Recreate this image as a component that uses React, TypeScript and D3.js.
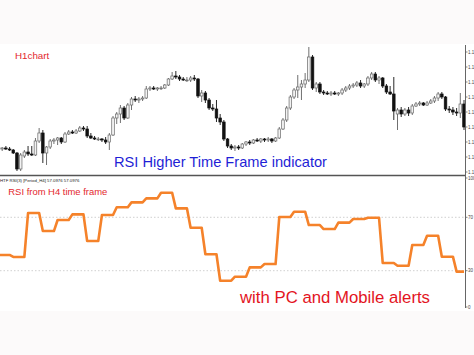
import React from "react";
import * as d3 from "d3";

// H1 candles: [open, high, low, close]
const candles: [number, number, number, number][] = [
  [1.1344,1.1346,1.1342,1.1343],[1.1343,1.1345,1.1341,1.1344],[1.1344,1.1346,1.1342,1.1343],[1.1343,1.1345,1.1341,1.1342],
  [1.1342,1.1343,1.1338,1.1339],[1.1339,1.1340,1.1321,1.1323],[1.1323,1.1339,1.1321,1.1337],[1.1336,1.1342,1.1334,1.1340],
  [1.1340,1.1346,1.1336,1.1338],[1.1338,1.1346,1.1336,1.1337],[1.1337,1.1354,1.1336,1.1351],[1.1351,1.1364,1.1349,1.1359],
  [1.1359,1.1362,1.1329,1.1339],[1.1339,1.1346,1.1327,1.1345],[1.1345,1.1353,1.1343,1.1351],[1.1351,1.1354,1.1348,1.1352],
  [1.1352,1.1355,1.1347,1.1354],[1.1354,1.1355,1.1348,1.1350],[1.1350,1.1360,1.1349,1.1358],[1.1358,1.1362,1.1357,1.1360],
  [1.1360,1.1362,1.1358,1.1359],[1.1359,1.1363,1.1358,1.1361],[1.1361,1.1366,1.1360,1.1364],[1.1364,1.1366,1.1361,1.1363],
  [1.1363,1.1366,1.1354,1.1356],[1.1356,1.1359,1.1353,1.1354],[1.1354,1.1356,1.1352,1.1353],[1.1353,1.1355,1.1351,1.1353],
  [1.1353,1.1354,1.1350,1.1352],[1.1352,1.1355,1.1348,1.1350],[1.1350,1.1359,1.1342,1.1357],[1.1357,1.1376,1.1356,1.1374],
  [1.1374,1.1380,1.1368,1.1378],[1.1378,1.1387,1.1369,1.1384],[1.1384,1.1386,1.1372,1.1374],[1.1374,1.1389,1.1373,1.1387],
  [1.1387,1.1395,1.1382,1.1393],[1.1393,1.1396,1.1390,1.1392],[1.1392,1.1395,1.1389,1.1393],[1.1393,1.1396,1.1391,1.1394],
  [1.1394,1.1406,1.1393,1.1403],[1.1403,1.1406,1.1401,1.1404],[1.1404,1.1406,1.1402,1.1403],[1.1403,1.1405,1.1401,1.1404],
  [1.1404,1.1406,1.1402,1.1404],[1.1404,1.1408,1.1403,1.1407],[1.1407,1.1414,1.1406,1.1413],[1.1413,1.1420,1.1412,1.1416],
  [1.1416,1.1421,1.1413,1.1415],[1.1415,1.1417,1.1411,1.1413],[1.1413,1.1415,1.1411,1.1412],[1.1412,1.1415,1.1410,1.1412],
  [1.1412,1.1416,1.1410,1.1414],[1.1414,1.1417,1.1411,1.1413],[1.1413,1.1414,1.1394,1.1396],[1.1396,1.1402,1.1390,1.1399],
  [1.1399,1.1401,1.1389,1.1392],[1.1392,1.1394,1.1382,1.1384],[1.1384,1.1388,1.1381,1.1383],[1.1383,1.1392,1.1370,1.1374],
  [1.1374,1.1378,1.1367,1.1370],[1.1370,1.1372,1.1351,1.1353],[1.1353,1.1354,1.1344,1.1346],[1.1346,1.1348,1.1342,1.1344],
  [1.1344,1.1347,1.1341,1.1345],[1.1345,1.1347,1.1342,1.1344],[1.1344,1.1349,1.1343,1.1348],[1.1348,1.1351,1.1346,1.1350],
  [1.1350,1.1352,1.1347,1.1349],[1.1349,1.1353,1.1348,1.1352],[1.1352,1.1354,1.1350,1.1351],[1.1351,1.1354,1.1349,1.1353],
  [1.1353,1.1354,1.1350,1.1352],[1.1352,1.1355,1.1350,1.1353],[1.1353,1.1354,1.1349,1.1351],[1.1351,1.1355,1.1350,1.1354],
  [1.1354,1.1365,1.1353,1.1363],[1.1363,1.1374,1.1362,1.1372],[1.1372,1.1386,1.1370,1.1384],[1.1384,1.1397,1.1382,1.1395],
  [1.1395,1.1404,1.1393,1.1402],[1.1402,1.1417,1.1394,1.1405],[1.1405,1.1412,1.1392,1.1408],[1.1408,1.1419,1.1404,1.1412],
  [1.1412,1.1445,1.1410,1.1435],[1.1435,1.1437,1.1402,1.1404],[1.1404,1.1410,1.1400,1.1408],[1.1408,1.1410,1.1398,1.1400],
  [1.1400,1.1402,1.1397,1.1399],[1.1399,1.1401,1.1397,1.1398],[1.1398,1.1401,1.1396,1.1399],[1.1399,1.1401,1.1397,1.1398],
  [1.1398,1.1400,1.1396,1.1399],[1.1399,1.1404,1.1397,1.1402],[1.1402,1.1406,1.1400,1.1404],[1.1404,1.1408,1.1402,1.1406],
  [1.1406,1.1409,1.1404,1.1407],[1.1407,1.1411,1.1405,1.1409],[1.1409,1.1412,1.1404,1.1406],[1.1406,1.1409,1.1404,1.1408],
  [1.1408,1.1416,1.1406,1.1414],[1.1414,1.1420,1.1412,1.1418],[1.1418,1.1420,1.1410,1.1412],[1.1412,1.1416,1.1408,1.1414],
  [1.1414,1.1415,1.1404,1.1406],[1.1406,1.1408,1.1398,1.1400],[1.1400,1.1406,1.1397,1.1398],[1.1398,1.1415,1.1372,1.1381],
  [1.1378,1.1384,1.1362,1.1382],[1.1382,1.1385,1.1375,1.1378],[1.1378,1.1384,1.1376,1.1382],[1.1382,1.1385,1.1376,1.1379],
  [1.1379,1.1388,1.1377,1.1386],[1.1386,1.1390,1.1385,1.1388],[1.1388,1.1391,1.1386,1.1389],[1.1389,1.1390,1.1386,1.1387],
  [1.1387,1.1391,1.1386,1.1389],[1.1389,1.1393,1.1388,1.1391],[1.1391,1.1396,1.1389,1.1394],[1.1394,1.1400,1.1391,1.1398],
  [1.1398,1.1400,1.1393,1.1395],[1.1395,1.1396,1.1381,1.1383],[1.1383,1.1386,1.1379,1.1382],[1.1382,1.1385,1.1377,1.1380],
  [1.1380,1.1384,1.1376,1.1379],[1.1379,1.1399,1.1374,1.1388],[1.1388,1.1392,1.1362,1.1365],
];

// RSI values of each H4 bar (one H4 bar = 4 H1 bars)
const rsiH4: number[] = [
  41.8, 40.3, 73.2, 59.7, 68, 72.2, 52.2, 71.7, 77.5, 81.2, 84.2, 88.4, 76.7, 62.2, 42.3, 22.5,
  25.5, 32.5, 35, 70.2, 74.2, 64.2, 61.2, 66, 68.7, 69.7, 35.8, 33.7, 49.2, 56.2, 40.5, 29.3,
];

const priceTicks: number[] = [1.144, 1.1425, 1.141, 1.1395, 1.138, 1.1365, 1.135, 1.1335, 1.132];
const rsiTicks: number[] = [100, 70, 30, 0];
const rsiLevels: number[] = [70, 30];

const FONT = "'Liberation Sans', Arial, sans-serif";
const W = 474;
const H = 355;
const AXIS_X = 465.5;

export default function App() {
  const n = candles.length;
  const x = d3.scaleLinear().domain([0, n - 1]).range([-1.5, 464]);
  const yP = d3.scaleLinear().domain([1.144, 1.132]).range([52, 172]);
  const yR = d3.scaleLinear().domain([0, 100]).range([310.75, 177.25]);

  const rsiPts: [number, number][] = candles.map((_, i) => [i, rsiH4[Math.floor(i / 4)]]);
  const line = d3
    .line<[number, number]>()
    .x((d) => x(d[0]))
    .y((d) => yR(d[1]));

  const bw = 2.6;

  return (
    <svg
      width={W}
      height={H}
      style={{ position: "fixed", left: 0, top: 0, background: "#fff" }}
      fontFamily={FONT}
    >
      <defs>
        <clipPath id="plot">
          <rect x={0} y={44} width={AXIS_X} height={270} />
        </clipPath>
      </defs>
      <rect x={0} y={0} width={W} height={44} fill="#fcfafa" />
      <rect x={0} y={311} width={W} height={44} fill="#fcfafa" />

      {/* candles */}
      <g clipPath="url(#plot)">
        {candles.map((c, i) => {
          const [o, h, l, cl] = c;
          const bull = cl >= o;
          const cx = x(i);
          const top = yP(Math.max(o, cl));
          const bot = yP(Math.min(o, cl));
          return (
            <g key={i}>
              <line x1={cx} x2={cx} y1={yP(h)} y2={yP(l)} stroke={bull ? "#606060" : "#111"} strokeWidth={0.9} />
              <rect
                x={cx - bw / 2}
                y={top}
                width={bw}
                height={Math.max(0.8, bot - top)}
                fill={bull ? "#f2f2f2" : "#111"}
                stroke={bull ? "#6a6a6a" : "#111"}
                strokeWidth={0.7}
              />
            </g>
          );
        })}
      </g>

      {/* panel separator */}
      <line x1={0} x2={AXIS_X} y1={175.5} y2={175.5} stroke="#555" strokeWidth={1.5} />

      {/* RSI levels */}
      {rsiLevels.map((v) => (
        <line key={v} x1={0} x2={AXIS_X} y1={yR(v)} y2={yR(v)} stroke="#c4c4c4" strokeWidth={0.8} strokeDasharray="1.5,2" />
      ))}

      {/* RSI line */}
      <g clipPath="url(#plot)">
        <path d={line(rsiPts) || ""} fill="none" stroke="#f5822a" strokeWidth={2.6} strokeLinejoin="round" />
      </g>

      {/* right axis */}
      <line x1={AXIS_X} x2={AXIS_X} y1={45} y2={308} stroke="#666" strokeWidth={1} />
      {priceTicks.map((p) => (
        <g key={p}>
          <line x1={AXIS_X} x2={AXIS_X + 2} y1={yP(p)} y2={yP(p)} stroke="#666" strokeWidth={0.8} />
          <text x={468} y={yP(p) + 1.5} fontSize={4.5} fill="#444">
            {p.toFixed(4)}
          </text>
        </g>
      ))}
      {rsiTicks.map((v) => (
        <g key={v}>
          <line x1={AXIS_X} x2={AXIS_X + 2} y1={Math.min(307, Math.max(178, yR(v)))} y2={Math.min(307, Math.max(178, yR(v)))} stroke="#666" strokeWidth={0.8} />
          <text x={468} y={Math.min(307, Math.max(178, yR(v))) + 1.5} fontSize={4.5} fill="#444">
            {v}
          </text>
        </g>
      ))}

      {/* texts */}
      <text x={15} y={59.3} fontSize={9.8} fill="#e3262c">H1chart</text>
      <text x={114} y={166.5} fontSize={15} fill="#1f1fd6" textLength={213} lengthAdjust="spacingAndGlyphs">
        RSI Higher Time Frame indicator
      </text>
      <text x={0} y={181.5} fontSize={4.3} fill="#222">HTF RSI(3) [Period_H4] 57.0976 57.0976</text>
      <text x={8.3} y={195.3} fontSize={9.5} fill="#e3262c" textLength={99} lengthAdjust="spacingAndGlyphs">
        RSI from H4 time frame
      </text>
      <text x={240} y={302.5} fontSize={16.8} fill="#e3141e" textLength={190} lengthAdjust="spacingAndGlyphs">
        with PC and Mobile alerts
      </text>
    </svg>
  );
}
